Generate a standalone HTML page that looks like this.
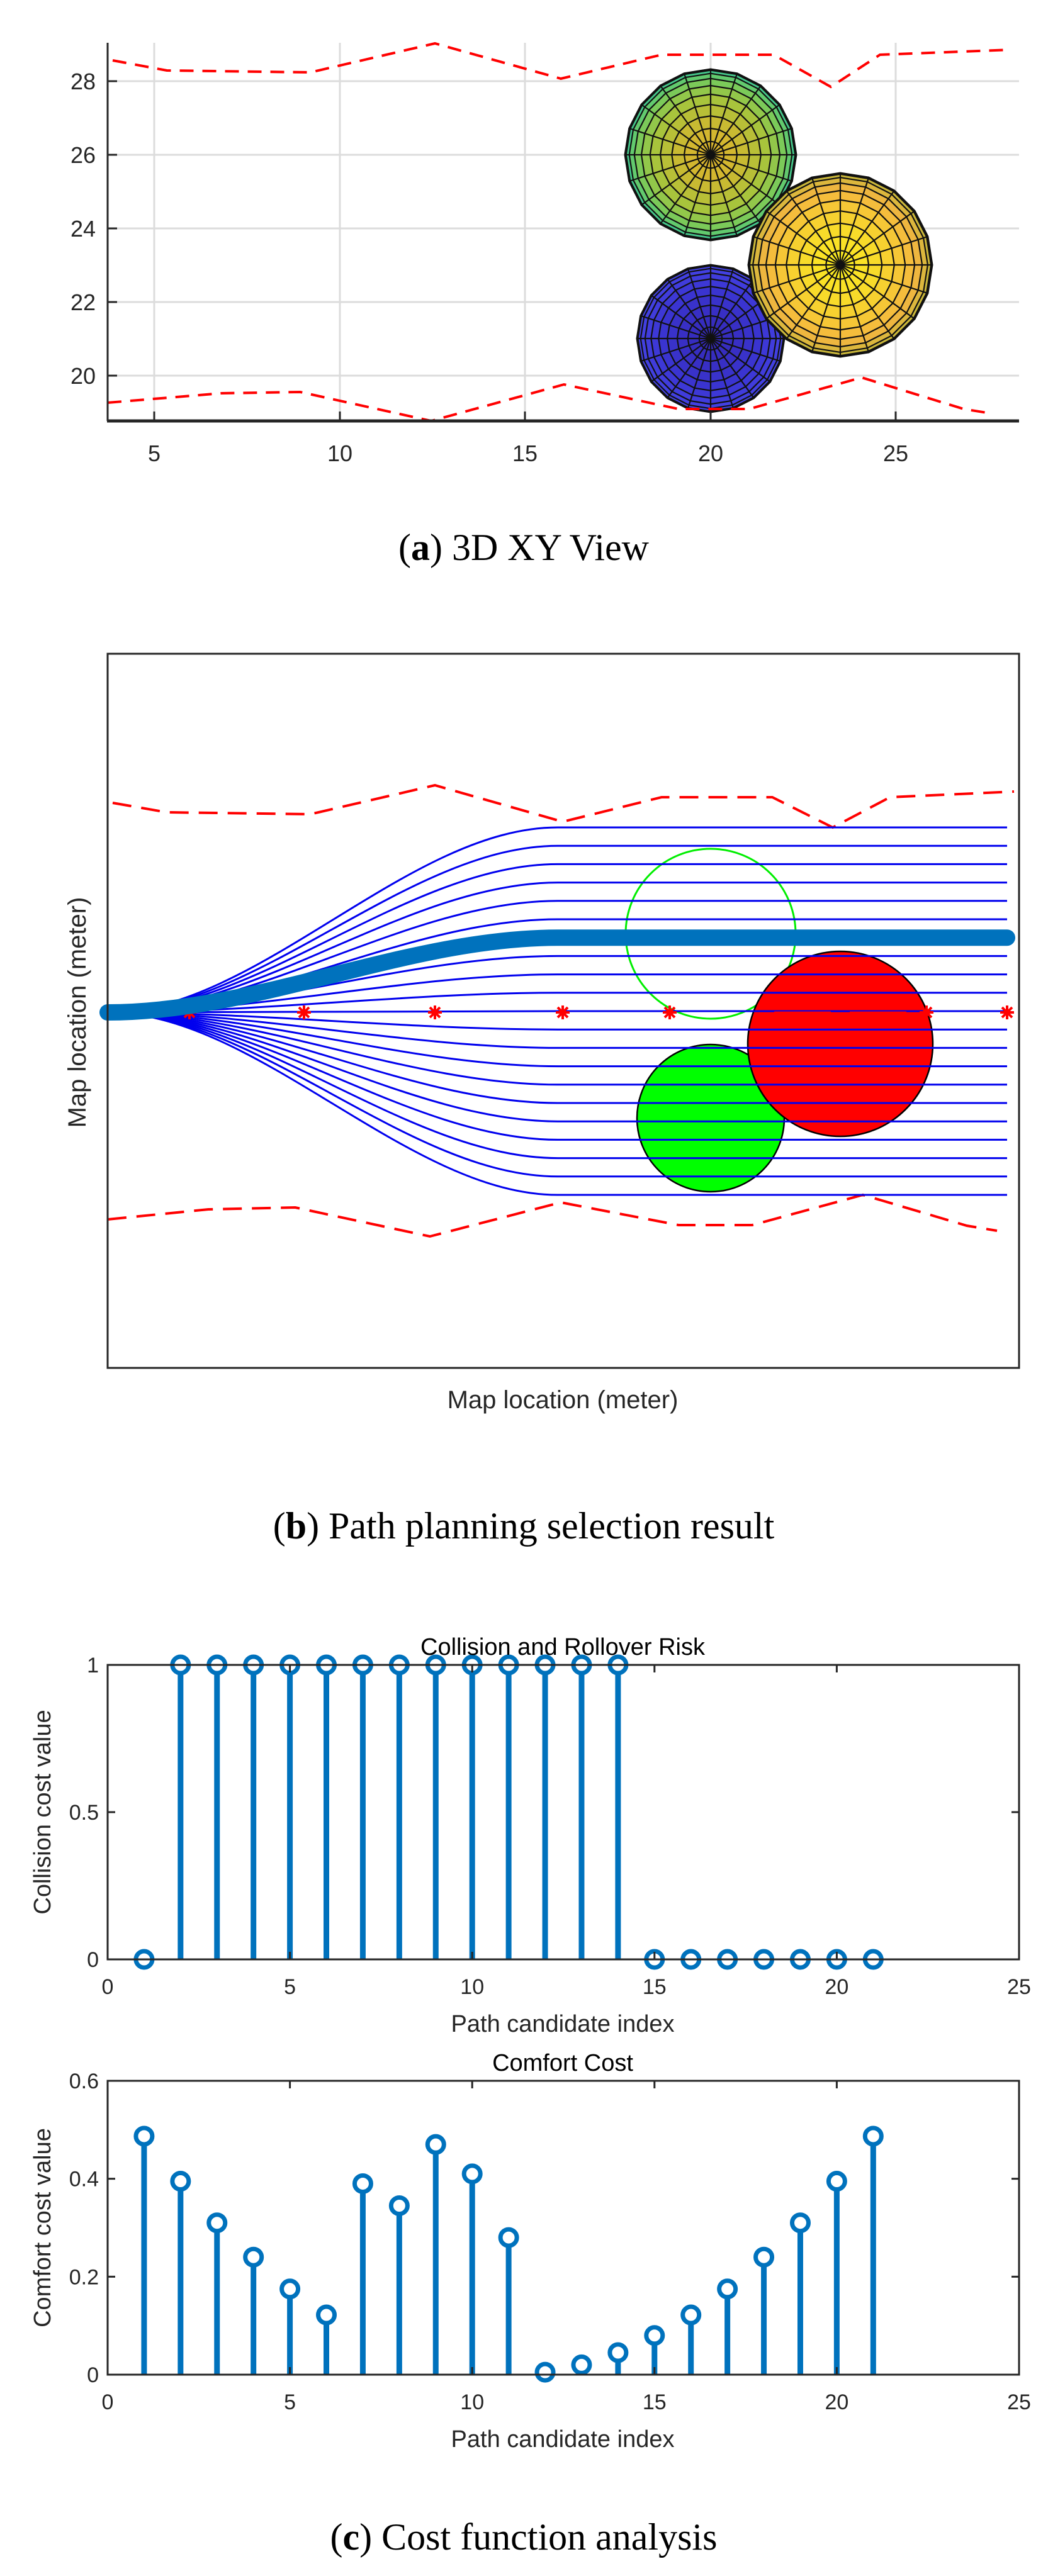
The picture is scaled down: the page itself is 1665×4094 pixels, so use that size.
<!DOCTYPE html>
<html><head><meta charset="utf-8">
<style>
html,body{margin:0;padding:0;background:#fff;}
svg{display:block;}
text{font-family:"Liberation Sans",sans-serif;fill:#262626;}
.cap{font-family:"Liberation Serif",serif;fill:#000;}
</style></head>
<body>
<svg id="s" width="1665" height="4094" viewBox="0 0 1665 4094" xmlns="http://www.w3.org/2000/svg">
<rect width="1665" height="4094" fill="#fff"/>
<g id="a">
<g stroke="#dcdcdc" stroke-width="3">
<line x1="245" y1="68" x2="245" y2="669"/><line x1="540" y1="68" x2="540" y2="669"/>
<line x1="834" y1="68" x2="834" y2="669"/><line x1="1129" y1="68" x2="1129" y2="669"/>
<line x1="1423" y1="68" x2="1423" y2="669"/>
<line x1="171" y1="129" x2="1619" y2="129"/><line x1="171" y1="246" x2="1619" y2="246"/>
<line x1="171" y1="363" x2="1619" y2="363"/><line x1="171" y1="480" x2="1619" y2="480"/>
<line x1="171" y1="597" x2="1619" y2="597"/>
</g>
<g id="spheres"></g>
<polyline fill="none" stroke="#f00" stroke-width="4" stroke-dasharray="22,14" points="179,96 265,112 493,115 691,69 891,125 1051,87 1229,87 1320,138 1398,87 1606,79"/>
<polyline fill="none" stroke="#f00" stroke-width="4" stroke-dasharray="22,14" points="171,640 352,625 477,623 685,669 896,611 1078,650 1190,650 1369,600 1531,650 1568,656"/>
<g stroke="#262626" stroke-width="3">
<line x1="171" y1="68" x2="171" y2="669"/>
<line x1="170" y1="669" x2="1619" y2="669" stroke-width="5"/>
<line x1="171" y1="129" x2="186" y2="129"/><line x1="171" y1="246" x2="186" y2="246"/>
<line x1="171" y1="363" x2="186" y2="363"/><line x1="171" y1="480" x2="186" y2="480"/>
<line x1="171" y1="597" x2="186" y2="597"/>
<line x1="245" y1="669" x2="245" y2="654"/><line x1="540" y1="669" x2="540" y2="654"/>
<line x1="834" y1="669" x2="834" y2="654"/><line x1="1129" y1="669" x2="1129" y2="654"/>
<line x1="1423" y1="669" x2="1423" y2="654"/>
</g>
<g font-size="36" text-anchor="end">
<text x="152" y="142">28</text><text x="152" y="259">26</text><text x="152" y="376">24</text>
<text x="152" y="493">22</text><text x="152" y="610">20</text>
</g>
<g font-size="36" text-anchor="middle">
<text x="245" y="733">5</text><text x="540" y="733">10</text><text x="834" y="733">15</text>
<text x="1129" y="733">20</text><text x="1423" y="733">25</text>
</g>
<text class="cap" x="832" y="890" font-size="60" text-anchor="middle">(<tspan font-weight="bold">a</tspan>) 3D XY View</text>
</g>

<g id="b">
<polyline fill="none" stroke="#f00" stroke-width="4" stroke-dasharray="30,16" points="179,1276 265,1291 493,1294 691,1248 894,1306 1051,1267 1227,1267 1323,1315 1414,1267 1611,1258"/>
<polyline fill="none" stroke="#f00" stroke-width="4" stroke-dasharray="30,16" points="171,1938 331,1922 469,1919 683,1965 891,1911 1078,1947 1195,1947 1371,1899 1536,1948 1584,1956"/>
<circle cx="1129" cy="1484" r="135" fill="none" stroke="#00ee00" stroke-width="3"/>
<circle cx="1129" cy="1777" r="117" fill="#00ff00" stroke="#000" stroke-width="2.5"/>
<circle cx="1335" cy="1659" r="147" fill="#ff0000" stroke="#000" stroke-width="2.5"/>
<g id="lanes" fill="none" stroke="#0000ee" stroke-width="3"></g>
<line x1="1230" y1="1609" x2="1470" y2="1609" stroke="#f00" stroke-width="3" stroke-dasharray="90,30"/>
<g id="stars" stroke="#f00" stroke-width="4"></g>
<path id="sel" fill="none" stroke="#0072bd" stroke-width="26" stroke-linecap="round"/>
<rect x="171" y="1039" width="1448" height="1135" fill="none" stroke="#262626" stroke-width="3"/>
<text x="894" y="2238" font-size="40" text-anchor="middle">Map location (meter)</text>
<text transform="translate(136,1609) rotate(-90)" font-size="40" text-anchor="middle">Map location (meter)</text>
<text class="cap" x="832" y="2445" font-size="60" text-anchor="middle">(<tspan font-weight="bold">b</tspan>) Path planning selection result</text>
</g>

<g id="c"></g>
<text class="cap" x="832" y="4052" font-size="60" text-anchor="middle">(<tspan font-weight="bold">c</tspan>) Cost function analysis</text>
</svg>
<script>
var NS="http://www.w3.org/2000/svg";
function el(p,t,a,txt){var e=document.createElementNS(NS,t);for(var k in a)e.setAttribute(k,a[k]);if(txt!=null)e.textContent=txt;p.appendChild(e);return e;}
function hex(c){return [parseInt(c.substr(1,2),16),parseInt(c.substr(3,2),16),parseInt(c.substr(5,2),16)];}
function mix(a,b,t){var A=hex(a),B=hex(b);return "rgb("+A.map(function(v,i){return Math.round(v+(B[i]-v)*t);}).join(",")+")";}
function mixN(cs,t){var n=cs.length-1;var i=Math.min(Math.floor(t*n),n-1);return mix(cs[i],cs[i+1],t*n-i);}
var sg=document.getElementById("spheres");
var sph=[[1129,538,117,["#3428b4","#3a34d0","#4848ee"]],[1129,246,136,["#e0b42c","#d0b830","#a8c43c","#70cc60","#28c4a8"]],[1335,421,146,["#fcf21c","#f8d82c","#f4b640","#b8b838"]]];
sph.forEach(function(s){
  var cx=s[0],cy=s[1],R=s[2],N=20,M=10;
  for(var k=M;k>=1;k--){
    var r=R*Math.sin(k/M*Math.PI/2);
    var pts=[];for(var j=0;j<N;j++){var a=j/N*2*Math.PI;pts.push((cx+r*Math.cos(a)).toFixed(1)+","+(cy+r*Math.sin(a)).toFixed(1));}
    el(sg,"polygon",{points:pts.join(" "),fill:mixN(s[3],k/M),stroke:"#111","stroke-width":k==M?3:2.2});
  }
  for(var j=0;j<N;j++){var a=j/N*2*Math.PI;el(sg,"line",{x1:cx,y1:cy,x2:(cx+R*Math.cos(a)).toFixed(1),y2:(cy+R*Math.sin(a)).toFixed(1),stroke:"#111","stroke-width":2.2});}
});
var lg=document.getElementById("lanes");
for(var i=0;i<21;i++){var y=1315+i*29.2;
  el(lg,"path",{d:"M171,1609 C409,1609 648,"+y+" 886,"+y+" L1600,"+y});}
var ys=1315+6*29.2;
document.getElementById("sel").setAttribute("d","M171,1609 C409,1609 648,"+ys+" 886,"+ys+" L1600,"+ys);
var sg2=document.getElementById("stars");
[301,483,691,894,1064,1472,1600].forEach(function(x){var y=1609,r=11;
  el(sg2,"line",{x1:x-r,y1:y,x2:x+r,y2:y});el(sg2,"line",{x1:x,y1:y-r,x2:x,y2:y+r});
  el(sg2,"line",{x1:x-8,y1:y-8,x2:x+8,y2:y+8});el(sg2,"line",{x1:x-8,y1:y+8,x2:x+8,y2:y-8});});
var cg=document.getElementById("c");
function X(v){return 171+v*57.92;}
function panel(top,bot,ymax,yt,vals,title,ylab){
  var Y=function(v){return bot-(v/ymax)*(bot-top);};
  for(var i=0;i<vals.length;i++){var x=X(i+1),y=Y(vals[i]);
    el(cg,"line",{x1:x,y1:bot,x2:x,y2:y,stroke:"#0072bd","stroke-width":9});}
  for(var i=0;i<vals.length;i++){var x=X(i+1),y=Y(vals[i]);
    el(cg,"circle",{cx:x,cy:y,r:13,fill:"#fff",stroke:"#0072bd","stroke-width":7});}
  el(cg,"rect",{x:171,y:top,width:1448,height:bot-top,fill:"none",stroke:"#262626","stroke-width":3});
  for(var t=0;t<=25;t+=5){var x=X(t);
    el(cg,"line",{x1:x,y1:bot,x2:x,y2:bot-12,stroke:"#262626","stroke-width":3});
    el(cg,"line",{x1:x,y1:top,x2:x,y2:top+12,stroke:"#262626","stroke-width":3});
    el(cg,"text",{x:x,y:bot+55,"font-size":34,"text-anchor":"middle"},String(t));}
  yt.forEach(function(t){var y=Y(t[0]);
    el(cg,"line",{x1:171,y1:y,x2:183,y2:y,stroke:"#262626","stroke-width":3});
    el(cg,"line",{x1:1619,y1:y,x2:1607,y2:y,stroke:"#262626","stroke-width":3});
    el(cg,"text",{x:157,y:y+12,"font-size":34,"text-anchor":"end"},t[1]);});
  el(cg,"text",{x:894,y:top-16,"font-size":38,"text-anchor":"middle",style:"fill:#000"},title);
  el(cg,"text",{x:894,y:bot+115,"font-size":38,"text-anchor":"middle"},"Path candidate index");
  el(cg,"text",{transform:"translate(80,"+((top+bot)/2)+") rotate(-90)","font-size":38,"text-anchor":"middle"},ylab);
}
panel(2646,3114,1,[[0,"0"],[0.5,"0.5"],[1,"1"]],[0,1,1,1,1,1,1,1,1,1,1,1,1,1,0,0,0,0,0,0,0],"Collision and Rollover Risk","Collision cost value");
panel(3307,3774,0.6,[[0,"0"],[0.2,"0.2"],[0.4,"0.4"],[0.6,"0.6"]],[0.487,0.395,0.31,0.24,0.175,0.122,0.39,0.345,0.47,0.41,0.28,0.005,0.02,0.045,0.08,0.122,0.175,0.24,0.31,0.395,0.487],"Comfort Cost","Comfort cost value");
</script>
</body></html>
